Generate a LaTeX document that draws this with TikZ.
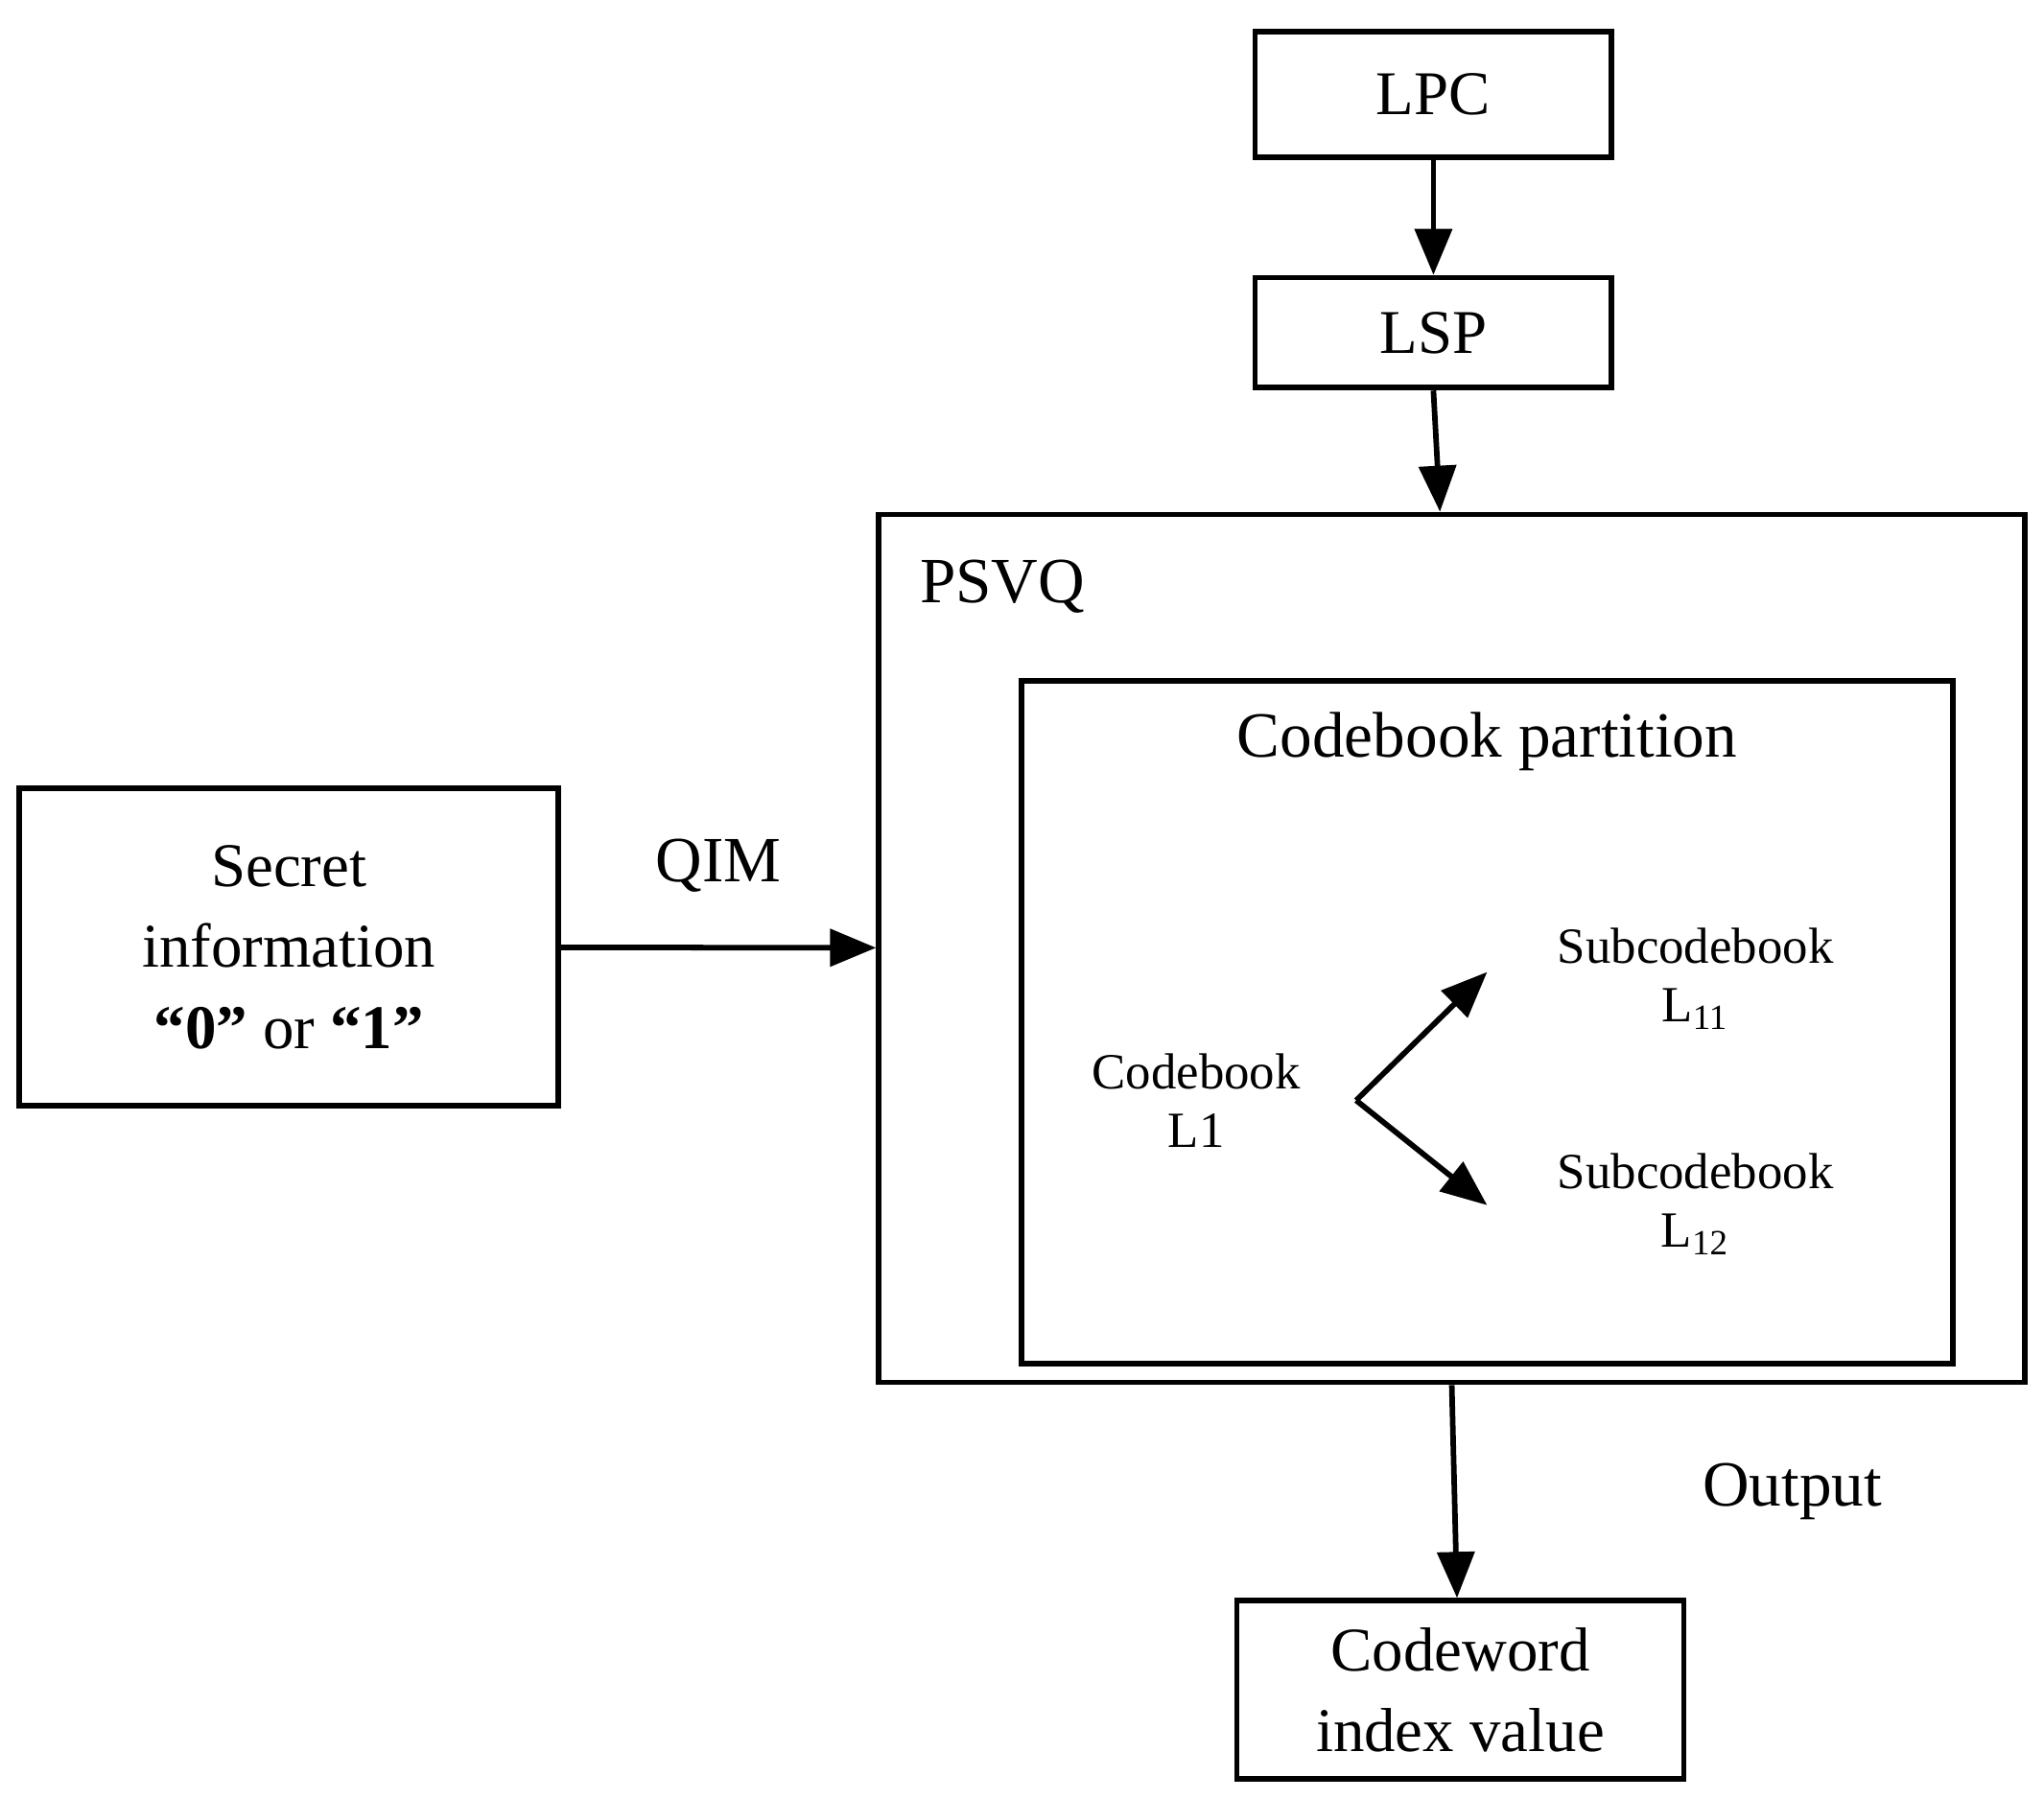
\documentclass[tikz,border=0pt]{standalone}
\usepackage{fontspec}
\setmainfont{Liberation Serif}
\usetikzlibrary{arrows.meta}
\begin{document}
\begin{tikzpicture}
[x=0.01cm, y=-0.01cm,
 box/.style={draw=black, line width=1.2pt, inner sep=0pt, align=center, font=\fontsize{13.5}{17.6}\selectfont},
 small/.style={align=center, font=\fontsize{11}{12.8}\selectfont},
 big/.style={font=\fontsize{14}{17}\selectfont},
 arr/.style={-{Triangle[length=10pt,width=8pt]}, line width=1.2pt}
 ]
\useasboundingbox (0,0) rectangle (1560,1373);
\node [box, minimum width=272\pgflinewidth] (lpc) at (1094,72) [minimum width=2.72cm, minimum height=0.96cm] {LPC};
\node [box, minimum width=2.72cm, minimum height=0.84cm] (lsp) at (1094,254) {LSP};
\node [box, minimum width=8.74cm, minimum height=6.62cm] (psvq) at (1108,724) {};
\node [box, minimum width=7.10cm, minimum height=5.21cm] (part) at (1135,780.5) {};
\node [box, minimum width=4.11cm, minimum height=2.42cm] (secret) at (220.5,723) {Secret\\information\\\textbf{“0”} or \textbf{“1”}};
\node [box, minimum width=3.41cm, minimum height=1.36cm] (word) at (1114.5,1290) {Codeword\\index value};
\node [big] (title) at (765,448) {PSVQ};
\node [big] (ptitle) at (1135,566) {Codebook partition};
\node [small] (cb) at (913,840) {Codebook\\L1};
\node [small] (sub1) at (1294,747) {Subcodebook\\L\textsubscript{11}};
\node [small] (sub2) at (1294,919) {Subcodebook\\L\textsubscript{12}};
\coordinate (fork) at (1035,840);
\coordinate (s1) at (1135,742);
\coordinate (s2) at (1135,920);
\draw [arr] (lpc) -- (lsp);
\draw [arr] (lsp.south) -- (psvq.north -| 1099,0);
\draw [arr] (secret) -- node [above=8pt, big] {QIM} (psvq);
\draw [arr] (psvq.south -| 1108,0) -- node [right=50pt, big] {Output} (word.north -| 1112,0);
\draw [arr] (fork) -- (s1);
\draw [arr] (fork) -- (s2);
\end{tikzpicture}
\end{document}
